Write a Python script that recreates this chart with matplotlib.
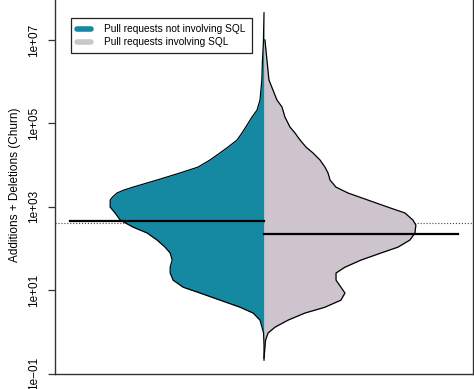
import numpy as np
import matplotlib.pyplot as plt
from matplotlib.lines import Line2D

plt.rcParams['font.family'] = ['Liberation Sans', 'DejaVu Sans']

# bean for pull requests NOT involving SQL: log10(churn) levels and relative density (max = 1)
levels_no_sql = [7.65, 6.93, 6.52, 6.04, 5.56, 5.32, 5.15, 4.96, 4.77, 4.60, 4.43, 4.29,
                 4.12, 3.95, 3.81, 3.64, 3.47, 3.40, 3.33, 3.23, 3.16, 2.99, 2.85, 2.68,
                 2.51, 2.37, 2.20, 2.03, 1.89, 1.72, 1.55, 1.41, 1.24, 1.07, 0.93, 0.76,
                 0.59, 0.45, 0.28, 0.11, -0.03, -0.32, -0.68]
density_no_sql = [0.0, 0.004, 0.010, 0.014, 0.026, 0.045, 0.078, 0.110, 0.143, 0.175, 0.234,
                  0.286, 0.351, 0.429, 0.545, 0.695, 0.851, 0.910, 0.955, 0.985, 1.0, 1.0,
                  0.968, 0.935, 0.851, 0.760, 0.695, 0.643, 0.610, 0.597, 0.610, 0.610,
                  0.591, 0.526, 0.416, 0.286, 0.156, 0.071, 0.026, 0.013, 0.003, 0.0, 0.0]

# bean for pull requests involving SQL
levels_sql = [7.0, 6.52, 6.04, 5.56, 5.39, 5.15, 4.91, 4.77, 4.60, 4.43, 4.29, 4.12,
              3.95, 3.81, 3.64, 3.47, 3.33, 3.16, 2.99, 2.85, 2.68, 2.56, 2.37, 2.20,
              2.03, 1.89, 1.72, 1.55, 1.41, 1.24, 1.07, 0.93, 0.76, 0.59, 0.45, 0.28,
              0.11, -0.03, -0.20, -0.37, -0.63]
density_sql = [0.006, 0.019, 0.032, 0.084, 0.117, 0.136, 0.169, 0.201, 0.234, 0.273, 0.318,
               0.364, 0.396, 0.416, 0.429, 0.468, 0.545, 0.675, 0.805, 0.916, 0.968, 0.987,
               0.981, 0.948, 0.870, 0.760, 0.630, 0.526, 0.468, 0.468, 0.500, 0.526, 0.500,
               0.396, 0.266, 0.156, 0.071, 0.026, 0.010, 0.006, 0.0]

mean_no_sql = 453
mean_sql = 221
mean_all = 406

tick_values = [1e-1, 1e1, 1e3, 1e5, 1e7]
tick_labels = ['1e\u221201', '1e+01', '1e+03', '1e+05', '1e+07']
legend_labels = ['Pull requests not involving SQL', 'Pull requests involving SQL']

teal = '#1588a2'
grey = '#cdc4cd'

fig = plt.figure(figsize=(4.74, 3.89), dpi=100)
ax = fig.add_axes([0.116, 0.0398, 0.882, 0.968])

maxw = 0.368
beanline = 0.464
ax.axhline(mean_all, ls=':', color='#444444', lw=0.8, zorder=0)

y1 = 10 ** np.array(levels_no_sql)
x1 = 1 - maxw * np.array(density_no_sql)
ax.fill_betweenx(y1, x1, 1, color=teal, lw=0, zorder=1)
ax.plot(x1, y1, color='black', lw=0.9, zorder=2)

y2 = 10 ** np.array(levels_sql)
x2 = 1 + maxw * np.array(density_sql)
ax.fill_betweenx(y2, 1, x2, color=grey, lw=0, zorder=1)
ax.plot(x2, y2, color='black', lw=0.9, zorder=2)

ax.plot([1 - beanline, 1], [mean_no_sql, mean_no_sql], color='black', lw=1.6, zorder=3)
ax.plot([1, 1 + beanline], [mean_sql, mean_sql], color='black', lw=1.6, zorder=3)

ax.set_yscale('log')
ax.set_xlim(0.5, 1.5)
ax.set_ylim(10 ** -1.0, 10 ** 8.03)
ax.set_xticks([])
ax.set_yticks(tick_values)
ax.set_yticklabels(tick_labels, rotation=90, va='center')
ax.yaxis.set_minor_locator(plt.NullLocator())
ax.tick_params(axis='y', length=5, pad=6, labelsize=8.5, color='#333333', width=0.9)
ax.set_ylabel('Additions + Deletions (Churn)', fontsize=8.5, labelpad=5)
for s in ax.spines.values():
    s.set_color('#333333')
    s.set_linewidth(1.0)

handles = [Line2D([], [], color=teal, lw=4, solid_capstyle='round'),
           Line2D([], [], color='#c8c8c8', lw=4, solid_capstyle='round')]
leg = ax.legend(handles, legend_labels, loc='upper left', bbox_to_anchor=(0.0376, 0.9434),
                borderaxespad=0, fontsize=7.3, fancybox=False, framealpha=1,
                edgecolor='#222222', handlelength=1.4, handletextpad=1.3,
                labelspacing=0.3, borderpad=0.6)
leg.get_frame().set_linewidth(0.9)

fig.savefig('out.png', dpi=100)
